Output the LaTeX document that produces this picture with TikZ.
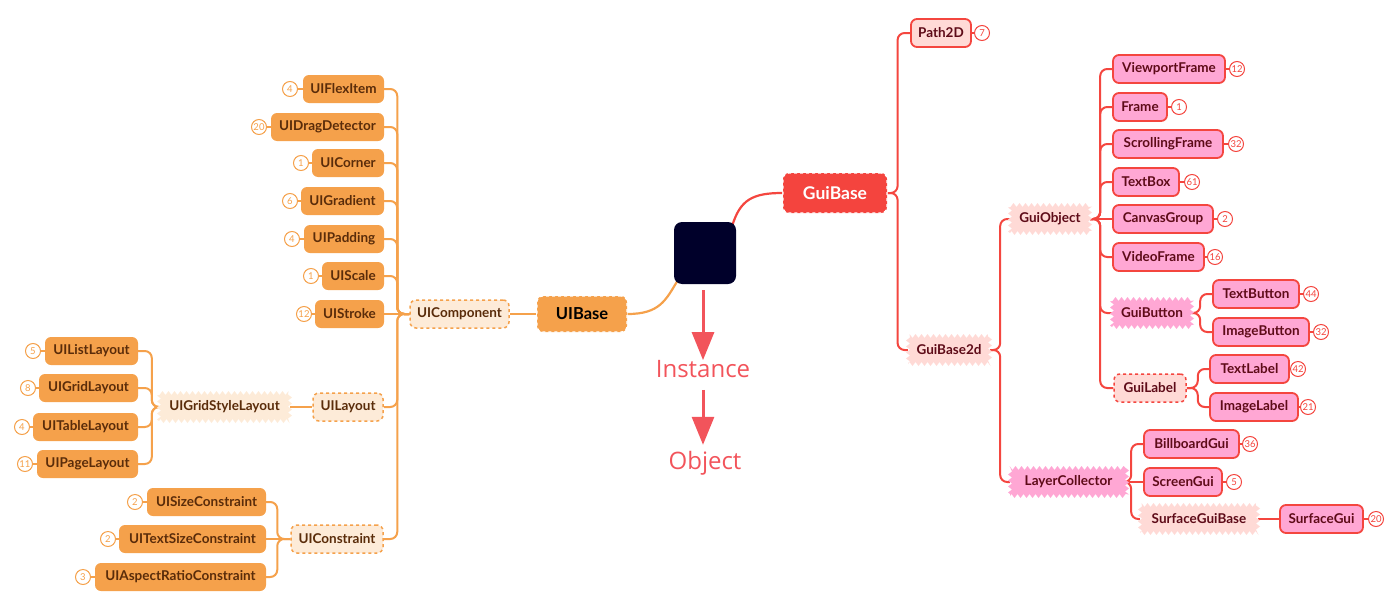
\documentclass[tikz,border=0pt]{standalone}
\usepackage{fontspec}
\setmainfont{Lato}
\newfontfamily\instfont{Open Sans}
\usetikzlibrary{arrows.meta,decorations.pathmorphing,calc}
\definecolor{org}{HTML}{F5A14B}
\definecolor{lorg}{HTML}{FDEBD8}
\definecolor{otext}{HTML}{5A2C0A}
\definecolor{redl}{HTML}{F4463F}
\definecolor{pinkf}{HTML}{FFA7D4}
\definecolor{lpink}{HTML}{FFDAD6}
\definecolor{rtext}{HTML}{5E0B18}
\definecolor{navy}{HTML}{00002A}
\definecolor{arr}{HTML}{F2545B}
\definecolor{gbred}{HTML}{F4443E}
\pgfdeclarelayer{bg}
\pgfsetlayers{bg,main}
\tikzset{
  base/.style={rounded corners=6pt, minimum height=28pt, inner sep=0pt, font=\fontsize{13.5}{15}\selectfont\bfseries},
  obox/.style={base, fill=org, text=otext},
  lobox/.style={base, fill=lorg, draw=org, dashed, line width=1.5pt, text=otext},
  ozz/.style={base, rounded corners=0pt, fill=lorg, text=otext, decorate, decoration={zigzag, amplitude=2pt, segment length=6pt}},
  rbox/.style={base, fill=pinkf, draw=redl, line width=1.8pt, text=rtext},
  lrbox/.style={rbox, fill=lpink},
  rzz/.style={base, rounded corners=0pt, fill=pinkf, text=rtext, decorate, decoration={zigzag, amplitude=2pt, segment length=6pt}},
  lrzz/.style={rzz, fill=lpink},
  cnt/.style={circle, draw=org, fill=white, line width=1pt, minimum size=15pt, inner sep=0pt, font=\fontsize{9.5}{10}\selectfont, text=org},
  rcnt/.style={cnt, draw=redl, text=redl},
  oline/.style={draw=org, line width=2pt, rounded corners=7pt},
  rline/.style={draw=redl, line width=2pt, rounded corners=7pt},
  bigarrow/.style={draw=arr, line width=3pt, -{Triangle[width=22pt,length=28pt]}},
}
\begin{document}
\begin{tikzpicture}[x=1pt,y=-1pt]
\useasboundingbox (0,0) rectangle (1399,613);
% ---------------- left (orange) ----------------
\node[obox, minimum width=81pt] (flex) at (343.5,89) {UIFlexItem};
\node[obox, minimum width=113pt] (drag) at (327.5,127) {UIDragDetector};
\node[obox, minimum width=72pt] (corner) at (348,163) {UICorner};
\node[obox, minimum width=83pt] (grad) at (342.5,201) {UIGradient};
\node[obox, minimum width=80pt] (pad) at (344,239) {UIPadding};
\node[obox, minimum width=62pt] (scale) at (353,276) {UIScale};
\node[obox, minimum width=69pt] (stroke) at (349.5,314) {UIStroke};
\node[lobox, minimum width=99pt] (comp) at (459.5,314) {UIComponent};
\node[lobox, minimum width=70pt] (layout) at (348,407) {UILayout};
\node[lobox, minimum width=92pt] (constr) at (337,539) {UIConstraint};
\node[ozz, minimum width=131pt] (grid) at (224.5,407) {UIGridStyleLayout};
\node[obox, minimum width=93pt] (listl) at (91.5,351) {UIListLayout};
\node[obox, minimum width=99pt] (gridl) at (88.5,388) {UIGridLayout};
\node[obox, minimum width=105pt] (tablel) at (85.5,427) {UITableLayout};
\node[obox, minimum width=101pt] (pagel) at (87.5,464) {UIPageLayout};
\node[obox, minimum width=119pt] (sizec) at (206.5,502) {UISizeConstraint};
\node[obox, minimum width=147pt] (tsizec) at (192.5,539) {UITextSizeConstraint};
\node[obox, minimum width=171pt] (aspect) at (180.5,577) {UIAspectRatioConstraint};
\node[base, fill=org, draw=white, dashed, line width=1.2pt, minimum width=90pt, minimum height=36pt, text=black, font=\fontsize{16.5}{18}\selectfont\bfseries] (uibase) at (582,314) {UIBase};
% counts left
\node[cnt] (cflex) at (290,89) {4};
\node[cnt] (cdrag) at (259,127) {20};
\node[cnt] (ccorner) at (301,163) {1};
\node[cnt] (cgrad) at (290,201) {6};
\node[cnt] (cpad) at (292,239) {4};
\node[cnt] (cscale) at (311,276) {1};
\node[cnt] (cstroke) at (304,314) {12};
\node[cnt] (clistl) at (33,351) {5};
\node[cnt] (cgridl) at (28,388) {8};
\node[cnt] (ctablel) at (22,427) {4};
\node[cnt] (cpagel) at (25,464) {11};
\node[cnt] (csizec) at (135,502) {2};
\node[cnt] (ctsizec) at (108,539) {2};
\node[cnt] (caspect) at (83,577) {3};
% ---------------- centre ----------------
\node[fill=navy, rounded corners=8pt, minimum size=62pt, inner sep=0pt] (sq) at (705,253) {};
\node[font=\instfont\fontsize{24}{28}\selectfont, text=arr, inner sep=0pt] (inst) at (703,369) {Instance};
\node[font=\instfont\fontsize{24}{28}\selectfont, text=arr, inner sep=0pt] (obj) at (705,463) {Object};
% ---------------- right (red) ----------------
\node[base, fill=gbred, draw=white, dashed, line width=1.2pt, minimum width=104pt, minimum height=40pt, text=white, font=\fontsize{17.5}{19}\selectfont\bfseries] (gb) at (835,193) {GuiBase};
\node[lrbox, minimum width=60pt] (p2d) at (941,33) {Path2D};
\node[lrzz, minimum width=82pt] (gb2d) at (949,350) {GuiBase2d};
\node[lrzz, minimum width=80pt] (gobj) at (1050,219) {GuiObject};
\node[rbox, minimum width=112pt] (vpf) at (1169,69) {ViewportFrame};
\node[rbox, minimum width=54pt] (frame) at (1140,107) {Frame};
\node[rbox, minimum width=110pt] (scroll) at (1168,144) {ScrollingFrame};
\node[rbox, minimum width=66pt] (tbox) at (1146,182) {TextBox};
\node[rbox, minimum width=100pt] (canvas) at (1163,219) {CanvasGroup};
\node[rbox, minimum width=91pt] (video) at (1158.5,257) {VideoFrame};
\node[rzz, minimum width=80pt] (gbtn) at (1152,313) {GuiButton};
\node[base, fill=lpink, draw=redl, dashed, line width=1.5pt, text=rtext, minimum width=72pt] (glab) at (1150,388) {GuiLabel};
\node[rbox, minimum width=86pt] (tbtn) at (1256,294) {TextButton};
\node[rbox, minimum width=96pt] (ibtn) at (1261,332) {ImageButton};
\node[rbox, minimum width=79pt] (tlab) at (1249.5,369) {TextLabel};
\node[rbox, minimum width=88pt] (ilab) at (1254,407) {ImageLabel};
\node[rzz, minimum width=117pt] (lcol) at (1068.5,482) {LayerCollector};
\node[rbox, minimum width=95pt] (bbg) at (1191.5,444) {BillboardGui};
\node[rbox, minimum width=78pt] (sgui) at (1183,482) {ScreenGui};
\node[lrzz, minimum width=118pt] (sfb) at (1199,519) {SurfaceGuiBase};
\node[rbox, minimum width=83pt] (sfg) at (1321.5,519) {SurfaceGui};
% counts right
\node[rcnt] (cp2d) at (982,33) {7};
\node[rcnt] (cvpf) at (1237,69) {12};
\node[rcnt] (cframe) at (1179,107) {1};
\node[rcnt] (cscroll) at (1236,144) {32};
\node[rcnt] (ctbox) at (1192,182) {61};
\node[rcnt] (ccanvas) at (1225,219) {2};
\node[rcnt] (cvideo) at (1215,257) {16};
\node[rcnt] (ctbtn) at (1311,294) {44};
\node[rcnt] (cibtn) at (1321,332) {32};
\node[rcnt] (ctlab) at (1298,369) {42};
\node[rcnt] (cilab) at (1308,407) {21};
\node[rcnt] (cbbg) at (1250,444) {36};
\node[rcnt] (csgui) at (1234,482) {5};
\node[rcnt] (csfg) at (1376,519) {20};
% ---------------- connectors ----------------
\begin{pgfonlayer}{bg}
\foreach \n in {flex,drag,corner,grad,pad,scale,layout,constr}
  \draw[oline] (comp.west) -- ++(-12,0) |- (\n.east);
\draw[oline] (comp.west) -- (stroke.east);
\draw[oline] (uibase.west) -- (comp.east);
\draw[oline] (layout.west) -- (grid.east);
\foreach \n in {listl,gridl,tablel,pagel}
  \draw[oline] (grid.west) -- ++(-7,0) |- (\n.east);
\foreach \n in {sizec,aspect}
  \draw[oline] (constr.west) -- ++(-13,0) |- (\n.east);
\draw[oline] (constr.west) -- (tsizec.east);
\foreach \n in {flex,drag,corner,grad,pad,scale,stroke,listl,gridl,tablel,pagel,sizec,tsizec,aspect}
  \draw[draw=org, line width=1.2pt] (c\n) -- (\n);
\draw[draw=org, line width=2.2pt] (uibase.east) .. controls +(32,0) and +(-12,20) .. ($(sq.south west)+(4,-4)$);
\draw[draw=redl, line width=2.2pt] ($(sq.north east)+(-4,4)$) .. controls +(8,-26) and +(-30,0) .. (gb.west);
\foreach \n in {p2d,gb2d}
  \draw[rline] (gb.east) -- ++(10,0) |- (\n.west);
\foreach \n in {gobj,lcol}
  \draw[rline] (gb2d.east) -- ++(10,0) |- (\n.west);
\foreach \n in {vpf,frame,scroll,tbox,video,gbtn,glab}
  \draw[rline] (gobj.east) -- ++(10,0) |- (\n.west);
\draw[rline] (gobj.east) -- (canvas.west);
\foreach \n in {tbtn,ibtn}
  \draw[rline] (gbtn.east) -- ++(8,0) |- (\n.west);
\foreach \n in {tlab,ilab}
  \draw[rline] (glab.east) -- ++(11,0) |- (\n.west);
\foreach \n in {bbg,sfb}
  \draw[rline] (lcol.east) -- ++(4,0) |- (\n.west);
\draw[rline] (lcol.east) -- (sgui.west);
\draw[rline] (sfb.east) -- (sfg.west);
\foreach \n in {p2d,vpf,frame,scroll,tbox,canvas,video,tbtn,ibtn,tlab,ilab,bbg,sgui,sfg}
  \draw[draw=redl, line width=1.2pt] (\n) -- (c\n);
\end{pgfonlayer}
\draw[bigarrow] ($(sq.south)+(-2,6)$) -- (inst.north);
\draw[bigarrow, shorten <=12pt, shorten >=6pt] (inst.south) -- (inst.south |- obj.north);
\end{tikzpicture}
\end{document}
